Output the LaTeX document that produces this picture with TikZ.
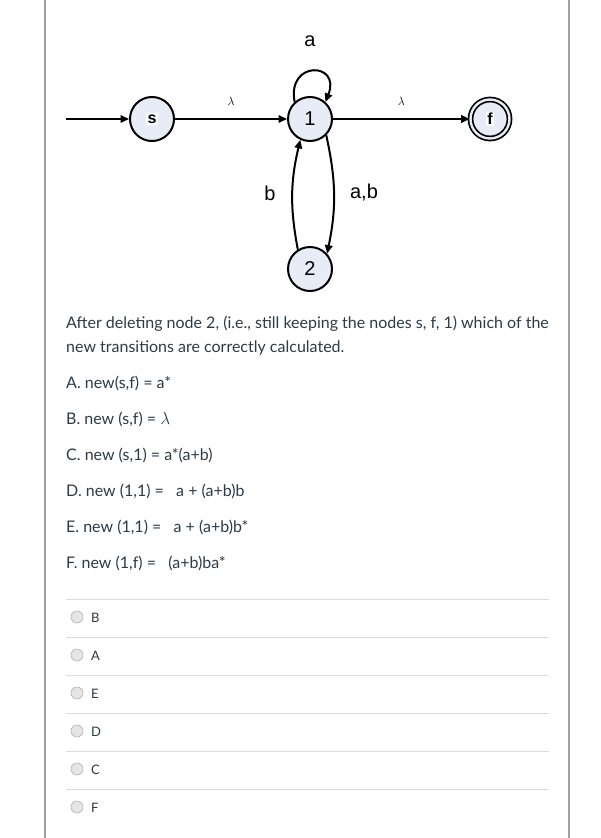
\documentclass[tikz,border=0pt]{standalone}
\usepackage{fontspec}
\setmainfont{Lato}
\newfontfamily\diagfont{Liberation Sans}
\usetikzlibrary{arrows.meta}
\definecolor{nodefill}{HTML}{E8ECF6}
\definecolor{frameline}{HTML}{A0A0A0}
\definecolor{sepline}{HTML}{DDDDDD}
\definecolor{txt}{HTML}{2D3B45}
\tikzset{
  x=1pt, y=-1pt,
  state/.style={circle, draw=black, line width=2pt, fill=nodefill, minimum size=44pt, inner sep=0pt, font=\diagfont\fontsize{20}{20}\selectfont},
  acc/.style={state, double=nodefill, double distance=2.4pt, line width=1.7pt, minimum size=39pt},
  lbl/.style={fill=white, inner sep=1.5pt, font=\diagfont\bfseries\fontsize{16}{16}\selectfont},
  arr/.style={-{Triangle[length=8.5pt,width=7.5pt]}, line width=2pt, black},
  elab/.style={font=\diagfont\fontsize{20}{20}\selectfont},
  lam/.style={font=\fontsize{12}{12}\selectfont},
  qtext/.style={anchor=base west, inner sep=0pt, text=txt, font=\fontsize{16}{19}\selectfont},
  opt/.style={anchor=base west, inner sep=0pt, text=txt, font=\fontsize{13}{15}\selectfont},
  sep/.style={draw=sepline, line width=1pt},
  radio/.style={circle, draw=gray!60, fill=gray!20, line width=0.6pt, minimum size=12pt, inner sep=0pt}
}
\begin{document}
\begin{tikzpicture}
\useasboundingbox (0,0) rectangle (601,838);
\fill[white] (0,0) rectangle (601,838);
\draw[frameline, line width=1.5pt] (45,0) -- (45,838);
\draw[frameline, line width=1.5pt] (569,0) -- (569,838);

% automaton
\node[state] (s) at (152,119) {};
\node[lbl] (sl) at (s) {s};
\node[state] (n1) at (310,119) {1};
\node[state] (n2) at (310,269) {2};
\node[acc] (f) at (490,119) {};
\node[lbl] (fl) at (f) {f};
\coordinate (start) at (66,119);

\draw[arr] (start) -- (s);
\draw[arr] (s) -- node[lam, above=9pt] {$\lambda$} (n1);
\draw[arr] (n1) -- node[lam, above=9pt] {$\lambda$} (f);
\draw[arr] (n1.132) .. controls +(-8,-42) and +(16,-40) .. (n1.48);
\node[elab] (la) at (310,41) {a};
\draw[arr] (n2.122) to[bend left=12] (n1.245);
\draw[arr] (n1.-45) to[bend left=12] (n2.42);
\node[elab] (lb) at (270,193) {b};
\node[elab] (lab) at (364,193) {a,b};

% question text
\node[qtext] (q1) at (66,328) {After deleting node 2, (i.e., still keeping the nodes s, f, 1) which of the};
\node[qtext] (q2) at (66,352) {new transitions are correctly calculated.};
\node[qtext] (qa) at (66,388) {A. new(s,f) = a*};
\node[qtext] (qb) at (66,424) {B. new (s,f) = {\fontsize{18}{18}\selectfont$\lambda$}};
\node[qtext] (qc) at (66,460) {C. new (s,1) = a*(a+b)};
\node[qtext] (qd) at (66,496) {D. new (1,1) = \ \ a + (a+b)b};
\node[qtext] (qe) at (66,532) {E. new (1,1) = \ \ a + (a+b)b*};
\node[qtext] (qf) at (66,568) {F. new (1,f) = \ \ (a+b)ba*};

% options
\foreach \y/\l [count=\i] in {599/B,637/A,675/E,713/D,751/C,789/F}{
  \draw[sep] (66,\y) -- (549,\y);
  \node[radio] (r\i) at (77,\y+18) {};
  \node[opt] (o\i) at (91,\y+23) {\l};
}
\end{tikzpicture}
\end{document}
